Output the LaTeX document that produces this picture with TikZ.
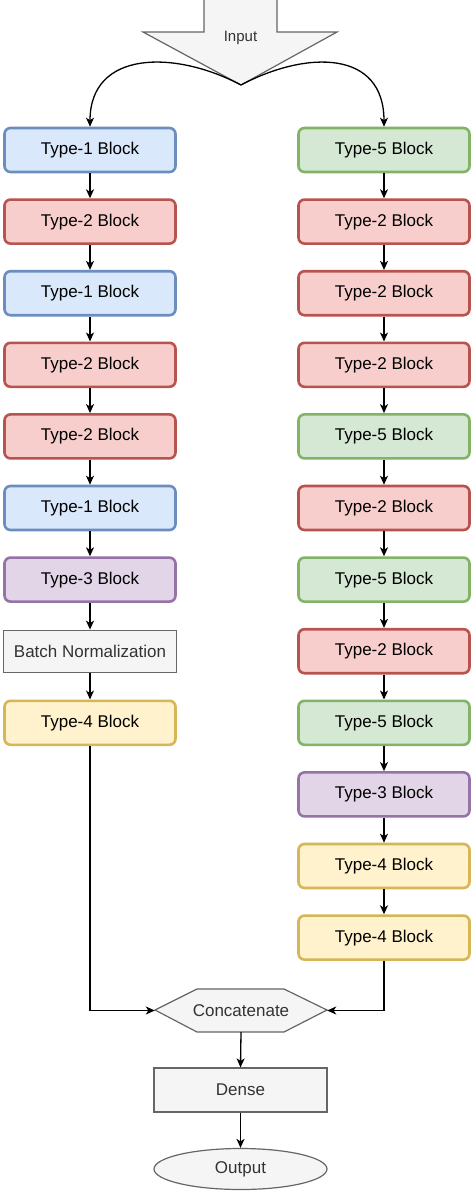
\documentclass[tikz,border=0pt]{standalone}
\usepackage{fontspec}
\setmainfont{Liberation Sans}
\usetikzlibrary{arrows.meta,shapes.geometric}
\definecolor{blueF}{HTML}{DAE8FC}\definecolor{blueD}{HTML}{6C8EBF}
\definecolor{redF}{HTML}{F8CECC}\definecolor{redD}{HTML}{B85450}
\definecolor{greenF}{HTML}{D5E8D4}\definecolor{greenD}{HTML}{82B366}
\definecolor{purF}{HTML}{E1D5E7}\definecolor{purD}{HTML}{9673A6}
\definecolor{yelF}{HTML}{FFF2CC}\definecolor{yelD}{HTML}{D6B656}
\definecolor{grayF}{HTML}{F5F5F5}\definecolor{grayD}{HTML}{666666}\definecolor{grayT}{HTML}{333333}
\begin{document}
\begin{tikzpicture}[x=1pt,y=-1pt,
  blk/.style={draw, rounded corners=6pt, line width=2.6pt, minimum width=171pt, minimum height=44pt,
    inner sep=0pt, font=\fontsize{17}{20}\selectfont, text=black},
  t1/.style={blk, fill=blueF, draw=blueD},
  t2/.style={blk, fill=redF, draw=redD},
  t3/.style={blk, fill=purF, draw=purD},
  t4/.style={blk, fill=yelF, draw=yelD},
  t5/.style={blk, fill=greenF, draw=greenD},
  graybox/.style={draw=grayD, fill=grayF, line width=1.2pt, text=grayT, inner sep=0pt,
    font=\fontsize{17}{20}\selectfont},
  arr/.style={draw=black, line width=1.3pt, -{Stealth[length=9pt,width=8pt,inset=2.5pt]}}
]
\useasboundingbox (0,0) rectangle (474,1192);
\fill[white] (0,0) rectangle (474,1192);
\clip (0,0) rectangle (474,1192);

% Input arrow
\draw[grayD, fill=grayF, line width=1.2pt, line join=miter]
  (204,-5) -- (204,32) -- (143,32) -- (241,85) -- (337,32) -- (277,32) -- (277,-5);
\node[text=grayT, font=\fontsize{15}{18}\selectfont] (input) at (240.5,38) {Input};
\coordinate (tip) at (241,85);

% Left column
\node[t1] (L1) at (90,150) {Type-1 Block};
\node[t2] (L2) at (90,221.6) {Type-2 Block};
\node[t1] (L3) at (90,293.2) {Type-1 Block};
\node[t2] (L4) at (90,364.8) {Type-2 Block};
\node[t2] (L5) at (90,436.4) {Type-2 Block};
\node[t1] (L6) at (90,508) {Type-1 Block};
\node[t3] (L7) at (90,579.6) {Type-3 Block};
\node[graybox, minimum width=173pt, minimum height=42pt] (L8) at (90,651.2) {Batch Normalization};
\node[t4] (L9) at (90,722.8) {Type-4 Block};

% Right column
\node[t5] (R1) at (384,150) {Type-5 Block};
\node[t2] (R2) at (384,221.6) {Type-2 Block};
\node[t2] (R3) at (384,293.2) {Type-2 Block};
\node[t2] (R4) at (384,364.8) {Type-2 Block};
\node[t5] (R5) at (384,436.4) {Type-5 Block};
\node[t2] (R6) at (384,508) {Type-2 Block};
\node[t5] (R7) at (384,579.6) {Type-5 Block};
\node[t2] (R8) at (384,651.2) {Type-2 Block};
\node[t5] (R9) at (384,722.8) {Type-5 Block};
\node[t3] (R10) at (384,794.4) {Type-3 Block};
\node[t4] (R11) at (384,866) {Type-4 Block};
\node[t4] (R12) at (384,937.6) {Type-4 Block};

% Concatenate hexagon
\draw[grayD, fill=grayF, line width=1.2pt]
  (155,1010) -- (197,989) -- (284,989) -- (327,1010) -- (284,1032) -- (197,1032) -- cycle;
\node[text=grayT, font=\fontsize{17}{20}\selectfont, minimum width=172pt, minimum height=43pt, inner sep=0pt]
  (concat) at (241,1010.5) {Concatenate};

\node[graybox, minimum width=173pt, minimum height=44pt] (dense) at (240.5,1090) {Dense};
\node[graybox, ellipse, minimum width=173pt, minimum height=41pt] (output) at (240.5,1169) {Output};

% connectors
\draw[arr] (tip) .. controls (175,50) and (90,50) .. (L1.north);
\draw[arr] (tip) .. controls (307,50) and (384,50) .. (R1.north);
\foreach \a/\b in {L1/L2,L2/L3,L3/L4,L4/L5,L5/L6,L6/L7,L7/L8,L8/L9,
  R1/R2,R2/R3,R3/R4,R4/R5,R5/R6,R6/R7,R7/R8,R8/R9,R9/R10,R10/R11,R11/R12}
  \draw[arr] (\a.south) -- (\b.north);
\draw[arr] (L9.south) |- (concat.west);
\draw[arr] (R12.south) |- (concat.east);
\draw[arr] (concat.south) -- (dense.north);
\draw[arr] (dense.south) -- (output.north);
\end{tikzpicture}
\end{document}
